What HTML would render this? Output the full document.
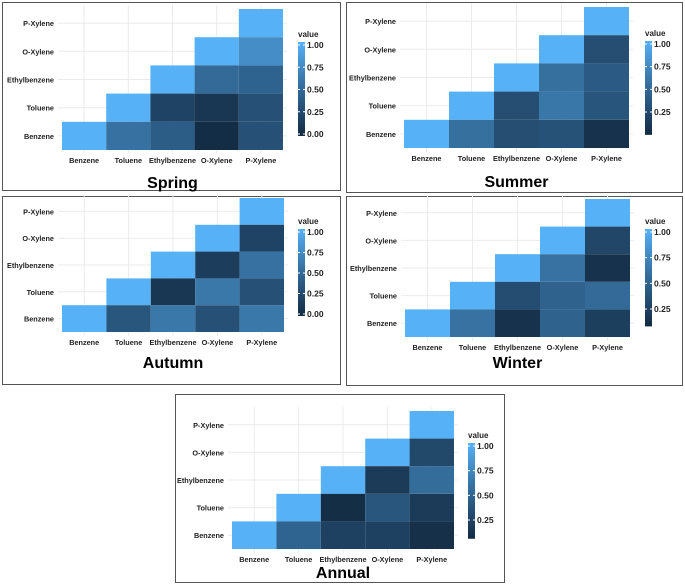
<!DOCTYPE html>
<html><head><meta charset="utf-8">
<style>
body{margin:0;background:#fff;}
svg{display:block;font-family:"Liberation Sans",sans-serif;}
</style></head>
<body>
<svg id="chart" width="685" height="588"></svg>
<script>
const categories = ["Benzene","Toluene","Ethylbenzene","O-Xylene","P-Xylene"];
// lower-triangle correlations: row index (y), column index (x), x>y; diagonal = 1
const springValues = [[0,1,0.55],[0,2,0.4],[0,3,0.02],[0,4,0.3],[1,2,0.2],[1,3,0.1],[1,4,0.3],[2,3,0.5],[2,4,0.45],[3,4,0.75]];
const summerValues = [[0,1,0.55],[0,2,0.3],[0,3,0.33],[0,4,0.08],[1,2,0.3],[1,3,0.6],[1,4,0.35],[2,3,0.55],[2,4,0.4],[3,4,0.3]];
const autumnValues = [[0,1,0.35],[0,2,0.6],[0,3,0.3],[0,4,0.6],[1,2,0.1],[1,3,0.6],[1,4,0.3],[2,3,0.15],[2,4,0.55],[3,4,0.2]];
const winterValues = [[0,1,0.6],[0,2,0.15],[0,3,0.5],[0,4,0.25],[1,2,0.35],[1,3,0.5],[1,4,0.55],[2,3,0.6],[2,4,0.15],[3,4,0.3]];
const annualValues = [[0,1,0.5],[0,2,0.25],[0,3,0.25],[0,4,0.12],[1,2,0.1],[1,3,0.4],[1,4,0.2],[2,3,0.2],[2,4,0.55],[3,4,0.3]];
const springTicks = [0,0.25,0.5,0.75,1];
const summerTicks = [0.25,0.5,0.75,1];
const autumnTicks = [0,0.25,0.5,0.75,1];
const winterTicks = [0.25,0.5,0.75,1];
const annualTicks = [0.25,0.5,0.75,1];

const svg = document.getElementById('chart');
const NS = 'http://www.w3.org/2000/svg';
function mk(tag, attrs, parent){const e=document.createElementNS(NS,tag);for(const k in attrs)e.setAttribute(k,attrs[k]);(parent||svg).appendChild(e);return e;}
// Lab interpolation (ggplot2 seq gradient #132B43 -> #56B1F7)
function srgb2lin(c){c/=255;return c<=0.04045?c/12.92:Math.pow((c+0.055)/1.055,2.4);}
function lin2srgb(c){c=c<=0.0031308?12.92*c:1.055*Math.pow(c,1/2.4)-0.055;return Math.round(Math.max(0,Math.min(1,c))*255);}
function toLab(rgb){const [r,g,b]=rgb.map(srgb2lin);
 let x=(0.4124*r+0.3576*g+0.1805*b)/0.95047,y=0.2126*r+0.7152*g+0.0722*b,z=(0.0193*r+0.1192*g+0.9505*b)/1.08883;
 const f=t=>t>0.008856?Math.cbrt(t):7.787*t+16/116;
 const fx=f(x),fy=f(y),fz=f(z);return [116*fy-16,500*(fx-fy),200*(fy-fz)];}
function fromLab([L,a,b]){const fy=(L+16)/116,fx=fy+a/500,fz=fy-b/200;
 const fi=t=>t*t*t>0.008856?t*t*t:(t-16/116)/7.787;
 const x=fi(fx)*0.95047,y=fi(fy),z=fi(fz)*1.08883;
 const r=3.2406*x-1.5372*y-0.4986*z,g=-0.9689*x+1.8758*y+0.0415*z,bb=0.0557*x-0.2040*y+1.0570*z;
 return [r,g,bb].map(lin2srgb);}
const loL=toLab([19,43,67]), hiL=toLab([86,177,247]);
function col(t){t=Math.max(0,Math.min(1,t));return 'rgb('+fromLab(loL.map((l,i)=>l+(hiL[i]-l)*t)).join(',')+')';}

const panels = [
 {name:'spring',title:'Spring',vals:springValues,ticks:springTicks,min:0,box:[2,2,338,188],x0:62,cw:44.2,yb:150,rh:28.2,lx:298,ltop:45,lbot:134,lmin:0,lmax:1,ty:188},
 {name:'summer',title:'Summer',vals:summerValues,ticks:summerTicks,min:0.02,box:[346,2,336,190],x0:404,cw:45,yb:148,rh:28.2,lx:645,ltop:44,lbot:112,lmin:0.25,lmax:1,ty:187},
 {name:'autumn',title:'Autumn',vals:autumnValues,ticks:autumnTicks,min:0,box:[2,196,338,188],x0:62,cw:44.4,yb:332,rh:26.8,lx:298,ltop:232,lbot:314,lmin:0,lmax:1,ty:368},
 {name:'winter',title:'Winter',vals:winterValues,ticks:winterTicks,min:0.1,box:[346,196,336,189],x0:405,cw:45,yb:337,rh:27.6,lx:645,ltop:232,lbot:309,lmin:0.25,lmax:1,ty:368},
 {name:'annual',title:'Annual',vals:annualValues,ticks:annualTicks,min:0.08,box:[175,394,329,188],x0:232,cw:44.4,yb:549,rh:27.6,lx:468,ltop:446,lbot:520,lmin:0.25,lmax:1,ty:578}
];

panels.forEach(p=>{
 const g=mk('g',{});
 
 
 const [bx,by,bw,bh]=p.box;
 mk('rect',{x:bx+0.5,y:by+0.5,width:bw,height:bh,fill:'#fff',stroke:'#555','stroke-width':1},g);
 const xs=i=>p.x0+i*p.cw, ys=j=>p.yb-(j+1)*p.rh;
 const colorOf=v=>col((v-p.min)/(1-p.min));
 categories.forEach((c,i)=>{
  mk('line',{x1:xs(i)+p.cw/2,x2:xs(i)+p.cw/2,y1:ys(4)-4,y2:p.yb+4,stroke:'#ebebeb','stroke-width':1},g);
  mk('line',{y1:ys(i)+p.rh/2,y2:ys(i)+p.rh/2,x1:p.x0-4,x2:xs(5)+4,stroke:'#ebebeb','stroke-width':1},g);
 });
 categories.forEach((c,i)=>{
  const r=mk('rect',{x:xs(i),y:ys(i),width:p.cw,height:p.rh,fill:colorOf(1)},g);
  
  
 });
 p.vals.forEach(([r,c,v])=>{
  const e=mk('rect',{x:xs(c),y:ys(r),width:p.cw,height:p.rh,fill:colorOf(v)},g);
  
  
 });
 categories.forEach((c,i)=>{
  const t=mk('text',{x:xs(i)+p.cw/2,y:p.yb+13,'text-anchor':'middle','font-size':7.3,'font-weight':'bold',fill:'#222'},g);
  t.textContent=c;
  
  
  const u=mk('text',{x:p.x0-8,y:ys(i)+p.rh/2+3,'text-anchor':'end','font-size':7.3,'font-weight':'bold',fill:'#222'},g);
  u.textContent=c;
  
  
 });
 const tt=mk('text',{x:xs(2.5),y:p.ty,'text-anchor':'middle','font-size':16,'font-weight':'bold',fill:'#000'},g);
 tt.textContent=p.title;
 
 
 const ly=v=>p.lbot-(v-p.lmin)/(p.lmax-p.lmin)*(p.lbot-p.ltop);
 const top=ly(1)-3, bot=ly(p.min)+2;
 const gid='grad-'+p.name;
 const defs=mk('defs',{},g);
 const lg=mk('linearGradient',{id:gid,x1:0,y1:1,x2:0,y2:0},defs);
 for(let k=0;k<=10;k++) mk('stop',{offset:k/10,'stop-color':col(k/10)},lg);
 const lb=mk('rect',{x:p.lx,y:top,width:7,height:bot-top,fill:'url(#'+gid+')'},g);
 
 
 const lt=mk('text',{x:p.lx,y:top-5,'font-size':8,'font-weight':'bold',fill:'#222'},g);
 lt.textContent='value';
 
 
 p.ticks.forEach(v=>{
  mk('line',{x1:p.lx,x2:p.lx+2,y1:ly(v),y2:ly(v),stroke:'#fff'},g);
  mk('line',{x1:p.lx+5,x2:p.lx+7,y1:ly(v),y2:ly(v),stroke:'#fff'},g);
  const t=mk('text',{x:p.lx+9,y:ly(v)+3,'font-size':8.5,'font-weight':'bold',fill:'#222'},g);
  t.textContent=v.toFixed(2);
  
  
 });
});
</script>
</body></html>
